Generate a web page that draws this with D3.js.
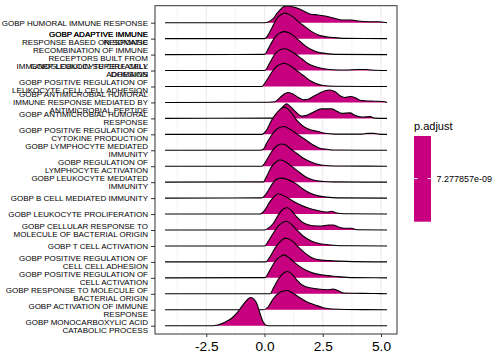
<!DOCTYPE html>
<html><head><meta charset="utf-8">
<script src="https://cdn.jsdelivr.net/npm/d3@7"></script>
<style>body{margin:0;background:#fff;} svg{display:block;font-family:"Liberation Sans",Arial,sans-serif;}</style>
</head><body><svg id="c" width="504" height="360"></svg>
<script>
// categories from bottom to top, wrapped as in the chart
const categories = [
  "GOBP MONOCARBOXYLIC ACID\nCATABOLIC PROCESS",
  "GOBP ACTIVATION OF IMMUNE\nRESPONSE",
  "GOBP RESPONSE TO MOLECULE OF\nBACTERIAL ORIGIN",
  "GOBP POSITIVE REGULATION OF\nCELL ACTIVATION",
  "GOBP POSITIVE REGULATION OF\nCELL CELL ADHESION",
  "GOBP T CELL ACTIVATION",
  "GOBP CELLULAR RESPONSE TO\nMOLECULE OF BACTERIAL ORIGIN",
  "GOBP LEUKOCYTE PROLIFERATION",
  "GOBP B CELL MEDIATED IMMUNITY",
  "GOBP LEUKOCYTE MEDIATED\nIMMUNITY",
  "GOBP REGULATION OF\nLYMPHOCYTE ACTIVATION",
  "GOBP LYMPHOCYTE MEDIATED\nIMMUNITY",
  "GOBP POSITIVE REGULATION OF\nCYTOKINE PRODUCTION",
  "GOBP ANTIMICROBIAL HUMORAL\nRESPONSE",
  "GOBP ANTIMICROBIAL HUMORAL\nIMMUNE RESPONSE MEDIATED BY\nANTIMICROBIAL PEPTIDE",
  "GOBP POSITIVE REGULATION OF\nLEUKOCYTE CELL CELL ADHESION",
  "GOBP LEUKOCYTE CELL CELL\nADHESION",
  "GOBP ADAPTIVE IMMUNE\nRESPONSE BASED ON SOMATIC\nRECOMBINATION OF IMMUNE\nRECEPTORS BUILT FROM\nIMMUNOGLOBULIN SUPERFAMILY\nDOMAINS",
  "GOBP ADAPTIVE IMMUNE\nRESPONSE",
  "GOBP HUMORAL IMMUNE RESPONSE"
];

// density estimates [value, density] for each category (same order as categories)
const dMonocarboxylic = [[-2.2,0],[-2.05,0.02],[-1.7,0.14],[-1.41,0.3],[-1.19,0.5],[-0.98,0.76],[-0.76,1.02],[-0.6,1.13],[-0.48,1.08],[-0.33,0.88],[-0.19,0.48],[-0.05,0.14],[0.09,0.01],[0.2,0]];
const dActivationImmune = [[-0.05,0],[0.16,0.12],[0.38,0.45],[0.59,0.65],[0.81,0.75],[0.98,0.77],[1.17,0.69],[1.45,0.52],[1.81,0.32],[2.17,0.19],[2.52,0.08],[2.88,0.03],[3.5,0.01]];
const dResponseBacterial = [[0.24,0],[0.38,0.23],[0.59,0.58],[0.81,0.82],[0.98,0.89],[1.17,0.8],[1.38,0.56],[1.6,0.36],[1.81,0.27],[2.24,0.2],[2.67,0.16],[2.95,0.19],[3.24,0.09],[3.38,0.03],[4.74,0.01]];
const dPosRegCellAct = [[0.02,0.01],[0.24,0.32],[0.45,0.65],[0.67,0.85],[0.84,0.92],[1.02,0.83],[1.24,0.65],[1.52,0.45],[1.81,0.29],[2.09,0.19],[2.52,0.11],[2.81,0.08],[3.24,0.04],[3.8,0.01]];
const dPosRegCellAdh = [[0.05,0],[0.24,0.21],[0.45,0.55],[0.67,0.81],[0.88,0.95],[1.02,0.93],[1.24,0.8],[1.45,0.6],[1.74,0.35],[2.03,0.17],[2.45,0.07],[2.8,0.05],[3.17,0.03],[3.8,0.01]];
const dTCellAct = [[0.0,0],[0.16,0.19],[0.38,0.52],[0.59,0.79],[0.81,0.96],[0.95,0.99],[1.17,0.85],[1.38,0.65],[1.67,0.39],[2.03,0.19],[2.45,0.08],[2.74,0.05],[3.3,0.01]];
const dCellularBacterial = [[0.0,0],[0.16,0.07],[0.38,0.27],[0.59,0.6],[0.81,0.84],[0.98,0.89],[1.17,0.76],[1.38,0.53],[1.6,0.33],[1.81,0.23],[2.09,0.17],[2.45,0.16],[2.74,0.2],[2.95,0.2],[3.17,0.12],[3.45,0.07],[3.74,0.07],[3.96,0.01]];
const dLeukProlif = [[-0.2,0],[0.02,0.17],[0.24,0.51],[0.45,0.73],[0.59,0.81],[0.88,0.71],[1.24,0.51],[1.52,0.37],[1.88,0.24],[2.24,0.15],[2.67,0.08],[2.88,0.11],[3.1,0.04],[3.4,0.01]];
const dBCell = [[-0.12,0.01],[0.09,0.2],[0.31,0.53],[0.52,0.76],[0.74,0.8],[1.02,0.73],[1.31,0.6],[1.6,0.4],[1.95,0.2],[2.31,0.09],[2.67,0.04],[3.1,0.01]];
const dLeukMediated = [[-0.05,0.01],[0.09,0.23],[0.31,0.63],[0.52,0.83],[0.67,0.89],[0.88,0.83],[1.17,0.63],[1.45,0.43],[1.74,0.23],[2.09,0.09],[2.52,0.03],[3.0,0.01]];
const dRegLymphAct = [[-0.12,0],[0.09,0.25],[0.31,0.59],[0.52,0.81],[0.74,0.89],[0.88,0.87],[1.09,0.72],[1.38,0.52],[1.67,0.32],[1.95,0.19],[2.24,0.09],[2.52,0.04],[3.0,0.01]];
const dLymphMediated = [[-0.2,0],[-0.05,0.04],[0.09,0.28],[0.31,0.61],[0.52,0.84],[0.81,0.95],[1.02,0.88],[1.24,0.75],[1.52,0.57],[1.81,0.39],[2.09,0.21],[2.38,0.08],[2.67,0.04],[3.0,0.01]];
const dCytokine = [[-0.12,0],[0.09,0.17],[0.31,0.57],[0.45,0.77],[0.67,1.0],[0.85,1.09],[1.02,1.0],[1.17,0.84],[1.38,0.57],[1.6,0.37],[1.88,0.21],[2.31,0.11],[2.6,0.04],[3.0,0.01],[4.2,0.01],[4.4,0.04],[4.7,0.04],[4.9,0.01]];
const dAntimicrobialHumoral = [[0.38,0.01],[0.59,0.22],[0.81,0.49],[0.95,0.58],[1.09,0.49],[1.31,0.29],[1.6,0.09],[1.81,0.12],[2.09,0.25],[2.45,0.38],[2.88,0.38],[3.1,0.29],[3.31,0.2],[3.67,0.22],[3.88,0.12],[4.17,0.05],[4.53,0.07],[4.74,0.01]];
const dAntimicrobialPeptide = [[0.16,0.01],[0.45,0.03],[0.67,0.2],[0.88,0.36],[1.02,0.4],[1.24,0.33],[1.45,0.2],[1.67,0.11],[1.88,0.13],[2.09,0.24],[2.38,0.38],[2.6,0.47],[2.81,0.5],[3.03,0.43],[3.24,0.27],[3.45,0.2],[3.67,0.24],[3.88,0.2],[4.1,0.09],[4.31,0.07],[4.74,0.05],[5.17,0.03]];
const dPosRegLeukAdh = [[-0.12,0],[0.09,0.24],[0.31,0.57],[0.52,0.8],[0.74,0.91],[0.84,0.93],[1.09,0.84],[1.38,0.64],[1.67,0.44],[1.95,0.24],[2.24,0.11],[2.52,0.04],[3.0,0.01]];
const dLeukCellAdh = [[0.0,0],[0.24,0.33],[0.45,0.67],[0.67,0.83],[0.88,0.87],[1.09,0.8],[1.31,0.67],[1.6,0.47],[1.88,0.27],[2.17,0.16],[2.45,0.09],[2.9,0.03],[3.5,0.02],[4.0,0.04],[4.3,0.04],[4.6,0.02]];
const dAdaptiveSomatic = [[0.0,0.01],[0.16,0.23],[0.31,0.49],[0.45,0.69],[0.67,0.87],[0.88,0.92],[1.02,0.88],[1.24,0.76],[1.45,0.59],[1.74,0.36],[2.03,0.19],[2.31,0.09],[2.6,0.05],[3.1,0.01]];
const dAdaptive = [[0.0,0],[0.16,0.15],[0.31,0.42],[0.45,0.68],[0.59,0.88],[0.74,0.98],[0.88,1.02],[1.02,0.99],[1.24,0.86],[1.45,0.68],[1.74,0.48],[2.03,0.28],[2.31,0.15],[2.6,0.08],[3.03,0.04],[3.5,0.01]];
const dHumoral = [[0.0,0],[0.16,0.03],[0.38,0.17],[0.52,0.35],[0.67,0.51],[0.81,0.64],[1.01,0.67],[1.2,0.64],[1.45,0.57],[1.74,0.44],[1.95,0.35],[2.29,0.31],[2.6,0.27],[3.03,0.17],[3.31,0.11],[3.74,0.11],[4.01,0.07],[4.5,0.04],[4.87,0.04],[5.2,0.01]];

const densityRange = [-4.27, 5.26];
const xTicks = [-2.5, 0, 2.5, 5];
const xMinorTicks = [-3.75, -1.25, 1.25, 3.75];
const pAdjustValues = [7.277857e-09];
const legendTitle = "p.adjust";

const series = [dMonocarboxylic, dActivationImmune, dResponseBacterial, dPosRegCellAct, dPosRegCellAdh,
  dTCellAct, dCellularBacterial, dLeukProlif, dBCell, dLeukMediated, dRegLymphAct, dLymphMediated,
  dCytokine, dAntimicrobialHumoral, dAntimicrobialPeptide, dPosRegLeukAdh, dLeukCellAdh,
  dAdaptiveSomatic, dAdaptive, dHumoral];

const svg = d3.select("#c");
const P = {l:155, r:397, t:5.7, b:334};
const x = d3.scaleLinear().domain([-4.7, 5.687]).range([P.l, P.r]);
const y = d3.scalePoint().domain(categories).range([325.7, 22.7]);
const h = d3.scaleLinear().domain([0, 1]).range([0, 25]);
const color = d3.scaleOrdinal().domain(pAdjustValues).range(["#C6007E"]);

svg.append("rect").attr("width",504).attr("height",360).attr("fill","#fff");
const g = svg.append("g");
// grid
g.selectAll("line.minor").data(xMinorTicks).join("line")
  .attr("x1",d=>x(d)).attr("x2",d=>x(d)).attr("y1",P.t).attr("y2",P.b)
  .attr("stroke","#EBEBEB").attr("stroke-width",0.6);
g.selectAll("line.major").data(xTicks).join("line")
  .attr("x1",d=>x(d)).attr("x2",d=>x(d)).attr("y1",P.t).attr("y2",P.b)
  .attr("stroke","#EBEBEB").attr("stroke-width",1.1);

const area = d3.area().curve(d3.curveMonotoneX);
const line = d3.line().curve(d3.curveMonotoneX);
// draw top to bottom so lower ridges overlay upper ones
for (let i = categories.length - 1; i >= 0; i--) {
  const base = y(categories[i]);
  const pts = [[densityRange[0], 0], ...series[i], [densityRange[1], 0]];
  area.x(d=>x(d[0])).y0(base).y1(d=>base - h(d[1]));
  line.x(d=>x(d[0])).y(d=>base - h(d[1]));
  g.append("path").attr("d", area(pts)).attr("fill", color(pAdjustValues[0]));
  g.append("path").attr("d", line(pts)).attr("fill","none").attr("stroke","#000").attr("stroke-width",1.1);
}

// panel border
svg.append("rect").attr("x",P.l).attr("y",P.t).attr("width",P.r-P.l).attr("height",P.b-P.t)
  .attr("fill","none").attr("stroke","#333").attr("stroke-width",1);

// x axis
const xa = svg.append("g").attr("transform",`translate(0,${P.b})`)
  .call(d3.axisBottom(x).tickValues(xTicks).tickSize(3).tickPadding(4).tickFormat(d3.format(".1f")));
xa.select(".domain").remove();
xa.selectAll("line").attr("stroke","#333");
xa.selectAll("text").attr("font-size","13.7px").attr("fill","#000").attr("font-family","Liberation Sans, Arial, sans-serif")
  .text(d => d3.format(".1f")(d).replace("−","-"));

// y axis ticks
const ya = svg.append("g").attr("transform",`translate(${P.l},0)`)
  .call(d3.axisLeft(y).tickSize(4).tickFormat(""));
ya.select(".domain").remove();
ya.selectAll("line").attr("stroke","#333");
// wrapped y labels
const lab = svg.append("g").attr("font-size","8px").attr("fill","#000").attr("text-anchor","end");
categories.forEach(c => {
  const lines = c.split("\n");
  const n = lines.length;
  lines.forEach((t, k) => {
    lab.append("text").attr("x", 148).attr("y", y(c) + (k - (n-1)/2) * 8)
      .attr("dy","0.35em").text(t);
  });
});

// legend
const lg = svg.append("g");
lg.append("text").attr("x",414).attr("y",130).attr("font-size","11px").attr("fill","#000").text(legendTitle);
lg.append("rect").attr("x",414).attr("y",136).attr("width",17).attr("height",85.7).attr("fill",color(pAdjustValues[0]));
const ly = 178.6;
lg.append("line").attr("x1",414).attr("x2",417.4).attr("y1",ly).attr("y2",ly).attr("stroke","#fff").attr("stroke-width",1);
lg.append("line").attr("x1",427.6).attr("x2",431).attr("y1",ly).attr("y2",ly).attr("stroke","#fff").attr("stroke-width",1);
lg.append("text").attr("x",436.5).attr("y",ly).attr("dy","0.35em").attr("font-size","9px").attr("fill","#000")
  .text(pAdjustValues[0].toExponential(6).replace("e-9","e-09"));
</script></body></html>
